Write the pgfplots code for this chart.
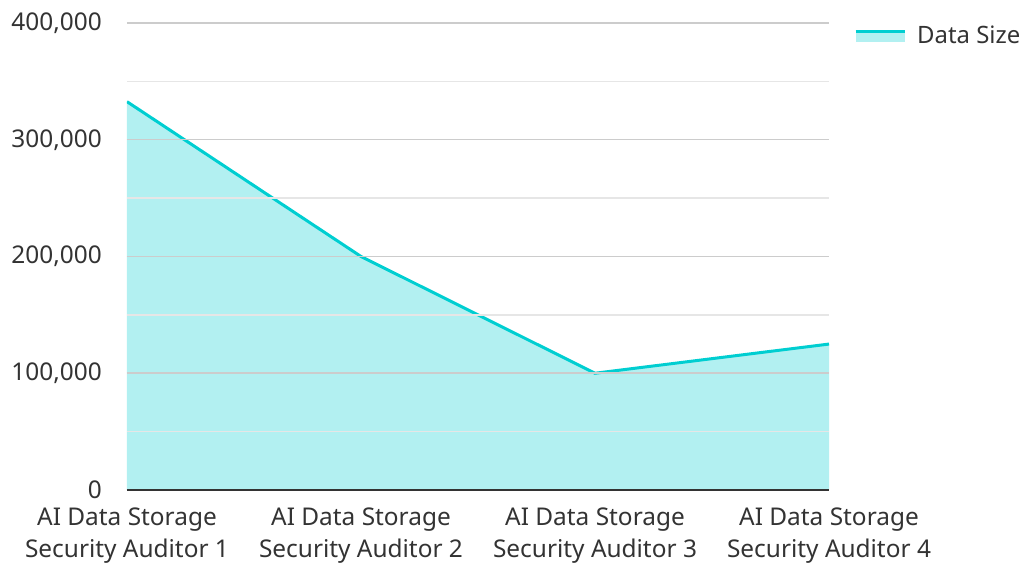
\documentclass[border=0pt]{standalone}
\usepackage{fontspec}
\setmainfont{Noto Sans}
\usepackage{pgfplots}
\pgfplotsset{compat=1.18}
\definecolor{turq}{HTML}{00CED1}
\definecolor{gridmaj}{HTML}{CCCCCC}
\definecolor{gridmin}{HTML}{E6E6E6}
\definecolor{txt}{HTML}{333333}
\begin{document}
\begin{tikzpicture}[x=1bp,y=1bp]
\path[use as bounding box] (-127,-74) rectangle (897,490);
\begin{axis}[
  at={(0,0)}, anchor=south west,
  scale only axis, width=702bp, height=467bp,
  xmin=0, xmax=3, ymin=0, ymax=400000,
  xtick={0,1,2,3},
  xticklabels={{AI Data Storage\\Security Auditor 1},{AI Data Storage\\Security Auditor 2},{AI Data Storage\\Security Auditor 3},{AI Data Storage\\Security Auditor 4}},
  ytick={0,100000,200000,300000,400000},
  yticklabels={0,{100,000},{200,000},{300,000},{400,000}},
  minor ytick={50000,150000,250000,350000},
  ymajorgrids, yminorgrids,
  major grid style={gridmaj, line width=1.5bp},
  minor grid style={gridmin, line width=1.5bp},
  axis x line*=bottom, axis y line*=left,
  y axis line style={draw=none},
  x axis line style={color=txt, line width=2bp, -},
  major tick length=0pt, minor tick length=0pt,
  tick style={draw=none},
  axis on top,
  scaled y ticks=false,
  ticklabel style={font=\fontsize{24.5}{32}\selectfont, text=txt, inner sep=0pt},
  yticklabel style={anchor=east, xshift=-25bp},
  xticklabel style={align=center, anchor=north, yshift=-18bp},
  legend style={at={(1,1)}, anchor=north west, xshift=25bp, yshift=-3bp, draw=none, fill=none,
    font=\fontsize{24}{28}\selectfont, text=txt, inner sep=0pt,
    nodes={inner sep=0pt}},
  legend cell align=left,
]
\addplot[draw=none, fill=turq, fill opacity=0.3, forget plot] coordinates {(0,332600)(1,200000)(2,100000)(3,125000)} \closedcycle;
\addplot[turq, line width=3bp, legend image code/.code={
  \path[draw=none, fill=turq, fill opacity=0.3] (0bp,-6bp) rectangle (49bp,4bp);
  \draw[turq, line width=3bp] (0bp,4.5bp)--(49bp,4.5bp);
  \path (60bp,0bp);}]
  coordinates {(0,332600)(1,200000)(2,100000)(3,125000)};
\addlegendentry{Data Size}
\end{axis}
\end{tikzpicture}
\end{document}
